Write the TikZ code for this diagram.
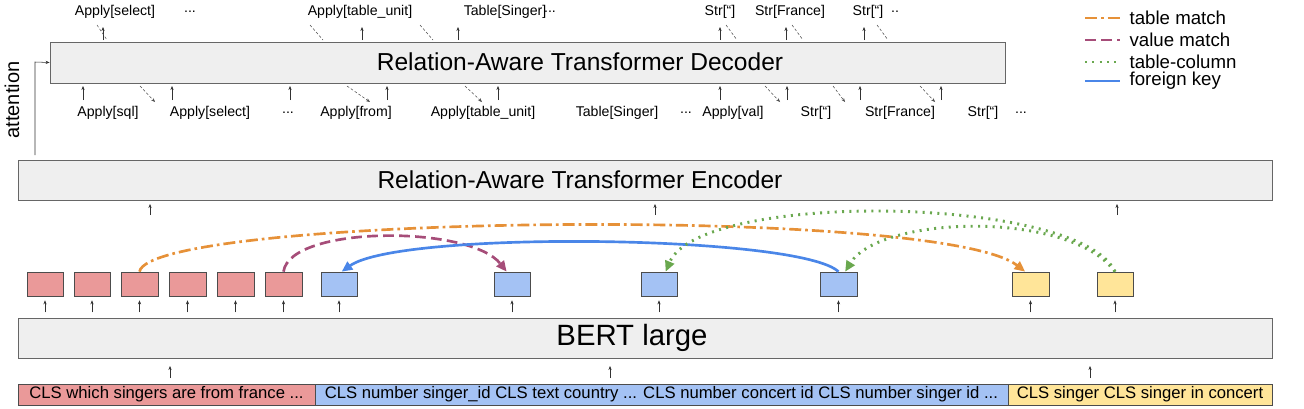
\documentclass[tikz,border=0pt]{standalone}
\usepackage{fontspec}
\setmainfont{Liberation Sans}
\usetikzlibrary{arrows.meta,fit}
\definecolor{boxgray}{HTML}{EFEFEF}
\definecolor{redf}{HTML}{EA9999}
\definecolor{bluef}{HTML}{A4C2F4}
\definecolor{yelf}{HTML}{FFE599}
\definecolor{orng}{HTML}{E69138}
\definecolor{purp}{HTML}{A64D79}
\definecolor{grn}{HTML}{6AA84F}
\definecolor{blu}{HTML}{4A86E8}
\tikzset{
  gbox/.style={draw=gray!80!black, fill=boxgray, line width=0.6pt, inner sep=0pt},
  tok/.style={draw=gray!60!black, line width=0.5pt, inner sep=0pt},
  lbl/.style={font=\fontsize{10.6}{12}\selectfont, inner sep=1pt},
  inl/.style={font=\fontsize{12.5}{14}\selectfont, inner sep=1pt},
  leg/.style={font=\fontsize{14}{16}\selectfont, inner sep=1pt},
  big/.style={font=\fontsize{18.4}{20}\selectfont},
  up/.style={-{Stealth[length=3pt,width=2.4pt]}, gray!40!black, line width=0.4pt},
  dg/.style={gray!60!black, dashed, dash pattern=on 2pt off 1.5pt, line width=0.4pt},
  dga/.style={dg, -{Stealth[length=3pt,width=2.4pt]}},
  rel/.style={line width=2pt, -{Triangle[length=8pt,width=7pt]}},
  tmatch/.style={orng, line width=2pt, dash pattern=on 9pt off 3pt on 2pt off 3pt},
  vmatch/.style={purp, line width=2pt, dash pattern=on 8pt off 4pt},
  tcol/.style={grn, line width=2.2pt, dash pattern=on 1.5pt off 4pt},
  fkey/.style={blu, line width=2pt},
}
\begin{document}
\begin{tikzpicture}[x=0.75pt,y=-0.75pt]
\useasboundingbox (0,0) rectangle (1304,408);
% decoder
\node[gbox, fit={(50,42)(1005,83)}] (dec) {};
\node[big] (dect) at (580,62) {Relation-Aware Transformer Decoder};
% top labels
\foreach \n/\x/\t in {t1/115/{Apply[select]},t2/190/{...},t3/360/{Apply[table\_unit]},t4/505/{Table[Singer]},t5/550/{...},t6/720/{Str[“]},t7/790/{Str[France]},t8/868/{Str[“]},t9/895/{..}}
  \node[lbl] (\n) at (\x,12) {\t};
\foreach \x in {103,362,458,720,786,864} \draw[up] (\x,40) -- (\x,27);
\foreach \a/\b in {97/107,310/323,420/433,726/737,792/803,877/888} \draw[dg] (\a,25) -- (\b,40);
% bottom labels
\foreach \n/\x/\t in {b1/108/{Apply[sql]},b2/210/{Apply[select]},b3/288/{...},b4/356/{Apply[from]},b5/483/{Apply[table\_unit]},b6/617/{Table[Singer]},b7/686/{...},b8/733/{Apply[val]},b9/816/{Str[“]},b10/900/{Str[France]},b11/983/{Str[“]},b12/1021/{...}}
  \node[lbl] (\n) at (\x,113) {\t};
\foreach \x in {83,172,290,387,498,720,787,860,941} \draw[up] (\x,100) -- (\x,86);
\foreach \a/\b in {140/155,347/370,465/482,765/780,833/845,920/935} \draw[dga] (\a,86) -- (\b,102);
% attention
\coordinate (att0) at (35,155);
\draw[up] (att0) -- (35,62) -- (dec.west);
\node[font=\fontsize{15}{16}\selectfont, rotate=90] (attn) at (12,100) {attention};
% encoder
\node[gbox, fit={(18,160)(1272,200)}] (enc) {};
\node[big] (enct) at (580,180) {Relation-Aware Transformer Encoder};
\foreach \x in {150,655,1117} \draw[up] (\x,215) -- (\x,204);
% tokens
\foreach \n/\a/\b/\c in {r1/27/63/redf,r2/74/110/redf,r3/121/158/redf,r4/169/206/redf,r5/217/254/redf,r6/265/302/redf,c1/321/357/bluef,c2/494/530/bluef,c3/641/677/bluef,c4/820/857/bluef,y1/1012/1049/yelf,y2/1097/1133/yelf}
  \node[tok, fill=\c, fit={(\a,272)(\b,296)}] (\n) {};
\foreach \n in {r1,r2,r3,r4,r5,r6,c1,c2,c3,c4,y1,y2}
  \draw[up] ([yshift=-12pt]\n.south) -- ([yshift=-3pt]\n.south);
% BERT
\node[gbox, fit={(18,318)(1272,358)}] (bert) {};
\node[font=\fontsize{22}{24}\selectfont] (bertt) at (632,338) {BERT large};
\foreach \x in {170,610,1090} \draw[up] (\x,378) -- (\x,366);
% input bar
\node[tok, fill=redf, fit={(18,384)(315,405)}] (ir) {};
\node[tok, fill=bluef, fit={(315,384)(1008,405)}] (ib) {};
\node[tok, fill=yelf, fit={(1008,384)(1272,405)}] (iy) {};
\node[inl] at (ir.center) {CLS which singers are from france ...};
\node[inl] at (ib.center) {CLS number singer\_id CLS text country ... CLS number concert id CLS number singer id ...};
\node[inl] at (iy.center) {CLS singer CLS singer in concert};
% relations
\draw[rel, tmatch] (r3.north) .. controls (150,215) and (940,205) .. ([xshift=-4pt]y1.north);
\draw[rel, vmatch] (r6.north) .. controls (290,225) and (470,225) .. ([xshift=-4pt]c2.north);
\draw[rel, fkey] (c4.north) .. controls (800,235) and (400,230) .. ([xshift=2pt]c1.north);
\draw[rel, tcol] (y2.north) .. controls (1080,195) and (700,190) .. ([xshift=5pt]c3.north);
\draw[rel, tcol] (y2.north) .. controls (1070,210) and (880,215) .. ([xshift=5pt]c4.north);
% legend
\draw[tmatch] (1085,18) -- (1120,18);
\node[leg, anchor=west] (l1) at (1128,18) {table match};
\draw[vmatch] (1085,40) -- (1120,40);
\node[leg, anchor=west] (l2) at (1128,40) {value match};
\draw[tcol] (1085,62) -- (1120,62);
\node[leg, anchor=west] (l3) at (1128,62) {table-column};
\draw[fkey] (1085,81) -- (1120,81);
\node[leg, anchor=west] (l4) at (1128,81) {foreign key};
\end{tikzpicture}
\end{document}
